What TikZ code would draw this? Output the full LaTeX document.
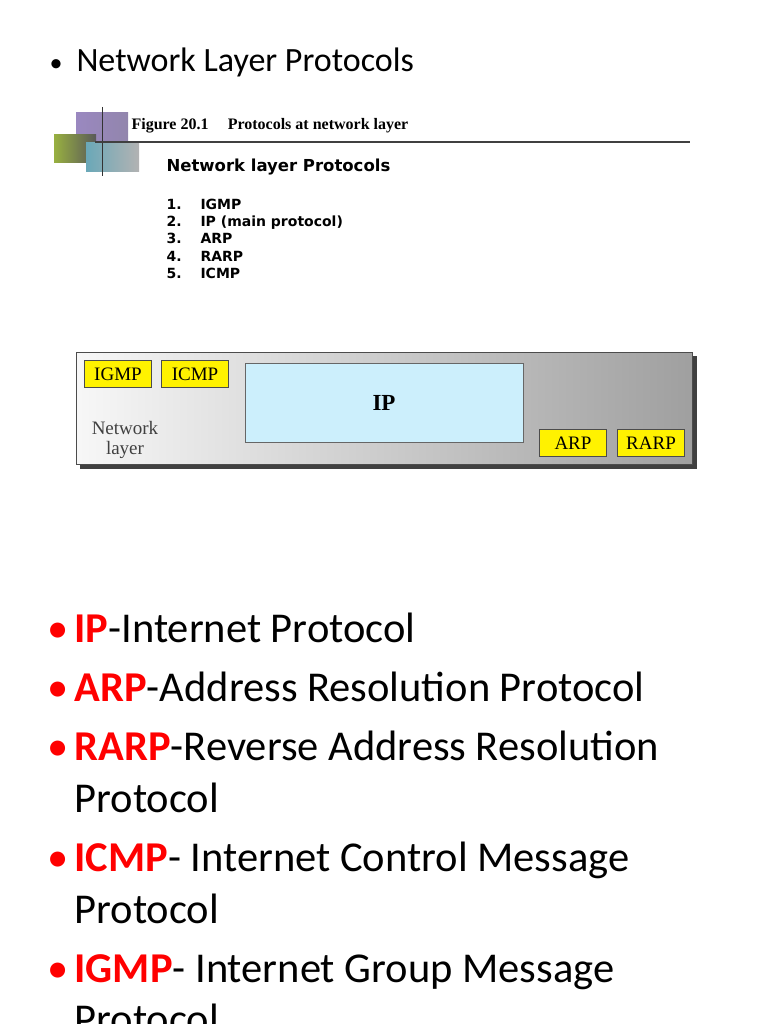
\documentclass[tikz,border=0pt]{standalone}
\usepackage{fontspec}
\setmainfont{Carlito}
\newfontfamily\figserif{Liberation Serif}
\newfontfamily\figsans{DejaVu Sans}
\definecolor{logopurple}{HTML}{9A88C0}
\definecolor{logogreen}{HTML}{98B040}
\definecolor{logoteal}{HTML}{6AA8B8}
\begin{document}
\begin{tikzpicture}[x=1pt, y=-1pt,
  yelbox/.style={draw=black!70, fill=yellow, line width=0.8pt, minimum width=67pt, minimum height=27pt, font=\figserif\fontsize{19}{19}\selectfont, inner sep=0pt},
  bigitem/.style={anchor=base west, font=\fontsize{42.5}{42.5}\selectfont},
  listitem/.style={anchor=base west, font=\figsans\bfseries\fontsize{14}{14}\selectfont}]
\useasboundingbox (0,0) rectangle (768,1024);
\node[anchor=base west, font=\fontsize{26}{26}\selectfont] (dot) at (46,72) {\textbullet};
\node[anchor=base west, font=\fontsize{34}{34}\selectfont] (title) at (73,72) {Network Layer Protocols};
% logo
\fill[left color=logopurple, right color=logopurple!70!gray] (76,113) rectangle (128,143);
\fill[left color=logogreen, right color=gray!70!black] (54,135) rectangle (96,163);
\fill[left color=logoteal, right color=gray!60] (86,143) rectangle (139,172);
\draw[gray!40!black, line width=1pt] (102,107) -- (102,176);
\coordinate (rulel) at (95,142);
\coordinate (ruler) at (690,142);
\draw[gray!50!black, line width=1.2pt] (rulel) -- (ruler);
\node[anchor=base west, font=\figserif\bfseries\fontsize{16}{16}\selectfont] (fig) at (128,130) {Figure 20.1\hspace{1.2em}Protocols at network layer};
\node[anchor=base west, font=\figsans\bfseries\fontsize{16.5}{16.5}\selectfont] (sub) at (163,172) {Network layer Protocols};
\foreach \n/\t [count=\i] in {1/IGMP, 2/IP (main protocol), 3/ARP, 4/RARP, 5/ICMP} {
  \node[listitem] (num\i) at (163,192+17.3*\i) {\n.};
  \node[listitem] (item\i) at (197,192+17.3*\i) {\t};
}
% network layer box
\fill[black!75] (80,356) rectangle (697,469);
\draw[left color=white!94!gray, right color=gray!75, line width=1pt, draw=black!70] (76,352) rectangle (692,464);
\node[yelbox] (igmp) at (118,374) {IGMP};
\node[yelbox] (icmp) at (195,374) {ICMP};
\node[draw=black!60, fill=cyan!20, line width=0.8pt, minimum width=278pt, minimum height=79pt, font=\figserif\bfseries\fontsize{23}{23}\selectfont] (ip) at (384,403) {IP};
\node[yelbox] (arp) at (573,443) {ARP};
\node[yelbox] (rarp) at (651,443) {RARP};
\node[align=center, font=\figserif\fontsize{19}{20}\selectfont, text=black!75, inner sep=0pt] (nl) at (125,440) {Network\\layer};
% expansions
\foreach \a/\b [count=\i] in {IP/-Internet Protocol, ARP/-Address Resolution Protocol, RARP/-Reverse Address Resolution, ICMP/- Internet Control Message, IGMP/- Internet Group Message} {
  \pgfmathsetmacro\yy{{642,701,760,871,982}[\i-1]}
  \node[bigitem, text=red] (b\i) at (44,\yy) {\textbullet};
  \node[bigitem] (e\i) at (71,\yy) {\textcolor{red}{\textbf{\a}}\b};
}
\foreach \yy [count=\i] in {812,923,1033} {
  \node[bigitem] (p\i) at (71,\yy) {Protocol};
}
\end{tikzpicture}
\end{document}
